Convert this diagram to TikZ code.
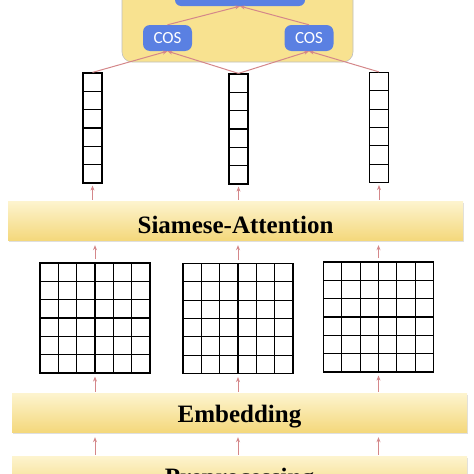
\documentclass[tikz,border=0pt]{standalone}
\usepackage{fontspec}
\setmainfont{Liberation Serif}
\newfontfamily\cosfont{Carlito}
\usetikzlibrary{shadows,calc,arrows.meta}
\definecolor{arr}{HTML}{D4878A}
\definecolor{barTop}{HTML}{FDF4CF}
\definecolor{barBot}{HTML}{F4D87C}
\definecolor{panel}{HTML}{F8E290}
\definecolor{cosblue}{HTML}{5A80E2}
\newcommand{\lowertext}[1]{\raisebox{-4pt}[\height][\depth]{#1}}
\tikzset{
  bar/.style={rectangle, minimum width=455pt, minimum height=39pt, inner sep=0pt,
    top color=barTop, bottom color=barBot,
    drop shadow={shadow xshift=0.8pt, shadow yshift=-2pt, opacity=0.25},
    font=\bfseries\fontsize{25}{25}\selectfont},
  gridbox/.style={draw, line width=1.2pt, minimum width=110pt, minimum height=110pt, inner sep=0pt,
    path picture={
      \foreach \i in {1,...,5}{
        \draw[line width=1.1pt] ($(path picture bounding box.south west)!\i/6!(path picture bounding box.south east)$) -- ($(path picture bounding box.north west)!\i/6!(path picture bounding box.north east)$);
        \draw[line width=1.1pt] ($(path picture bounding box.south west)!\i/6!(path picture bounding box.north west)$) -- ($(path picture bounding box.south east)!\i/6!(path picture bounding box.north east)$);
      }}},
  vecbox/.style={draw, line width=1.2pt, minimum width=19pt, minimum height=110pt, inner sep=0pt,
    path picture={
      \foreach \i in {1,...,5}{
        \draw[line width=1.1pt] ($(path picture bounding box.south west)!\i/6!(path picture bounding box.north west)$) -- ($(path picture bounding box.south east)!\i/6!(path picture bounding box.north east)$);
      }}},
  cosbox/.style={rectangle, rounded corners=7pt, fill=cosblue, text=white, minimum width=49pt, minimum height=26pt, inner sep=0pt, font=\cosfont\fontsize{17}{17}\selectfont},
  link/.style={draw=arr, line width=1pt, -{Stealth[length=5pt,width=4pt]}},
}
\begin{document}
\begin{tikzpicture}[x=1pt,y=1pt]
\useasboundingbox (0,0) rectangle (474,-474);
% top panel
\node[rectangle, rounded corners=10pt, fill=panel, draw=black!25, line width=0.6pt,
  minimum width=231pt, minimum height=76pt, inner sep=0pt] (panel) at (237.5,-24) {};
\node[rectangle, rounded corners=6pt, fill=cosblue, minimum width=130pt, minimum height=22pt, inner sep=0pt] (topbox) at (240,5) {};
\node[cosbox] (cos1) at (167.5,-38) {COS};
\node[cosbox] (cos2) at (309,-38) {COS};
% vectors
\node[vecbox] (v1) at (92.5,-128) {};
\node[vecbox] (v2) at (238.5,-129) {};
\node[vecbox] (v3) at (379,-127.5) {};
% bars
\node[bar] (sia) at (235.5,-220.5) {\lowertext{Siamese-Attention}};
\node[bar] (emb) at (239.5,-412.5) {\lowertext{Embedding}};
\node[bar] (pre) at (239.5,-475.5) {\lowertext{Preprocessing}};
% grids
\node[gridbox] (g1) at (95,-318) {};
\node[gridbox] (g2) at (238,-318.5) {};
\node[gridbox] (g3) at (378.5,-317) {};
% arrows
\foreach \g in {g1,g2,g3}{
  \draw[link, shorten <=1pt, shorten >=5pt] (pre.north -| \g) -- (emb.south -| \g);
  \draw[link, shorten <=1pt, shorten >=3pt] (emb.north -| \g) -- (\g.south);
  \draw[link, shorten <=3pt, shorten >=5pt] (\g.north) -- (sia.south -| \g);
}
\foreach \v in {v1,v2,v3}{
  \draw[link, shorten <=1pt, shorten >=2pt] (sia.north -| \v) -- (\v.south);
}
\draw[link] (v1.north) -- (cos1.south);
\draw[link] (v2.north) -- (cos1.south);
\draw[link] (v2.north) -- (cos2.south);
\draw[link] (v3.north) -- (cos2.south);
\draw[link] (cos1.north) -- (topbox.south);
\draw[link] (cos2.north) -- (topbox.south);
\end{tikzpicture}
\end{document}
